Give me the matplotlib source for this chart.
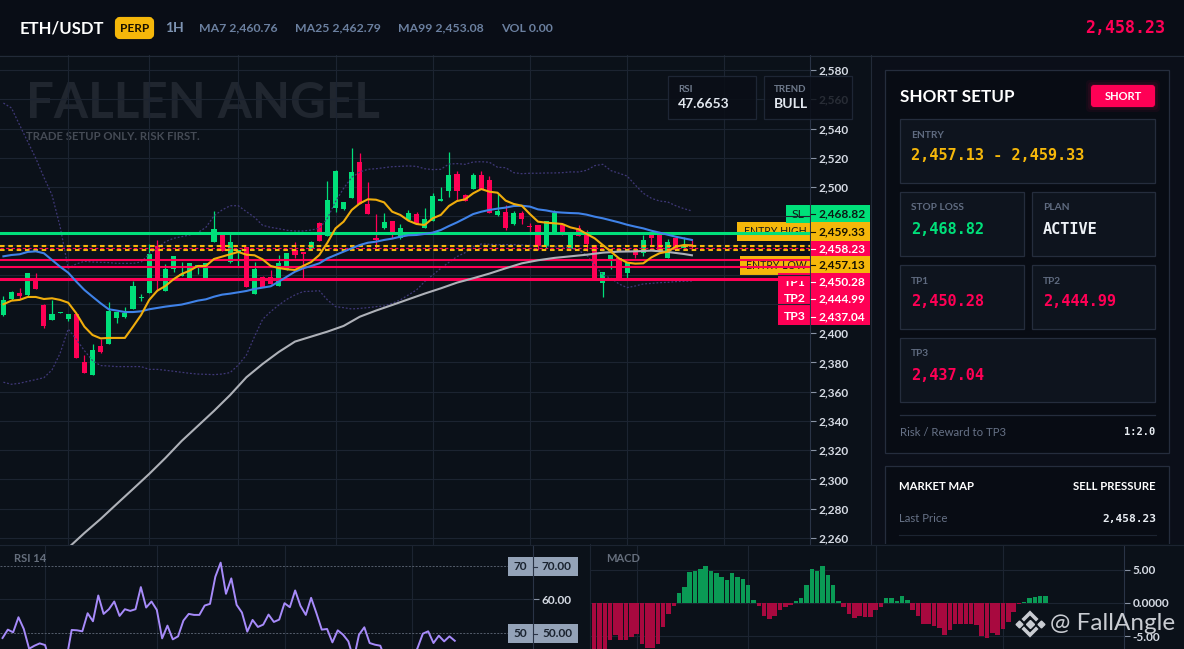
import matplotlib
matplotlib.use("Agg")
import matplotlib.pyplot as plt
from matplotlib.patches import Rectangle, FancyBboxPatch
from matplotlib.ticker import FuncFormatter

# candles
opens = [2412.5, 2423.2, 2427.5, 2426.2, 2436.9, 2419.3, 2409.1, 2413.9, 2409.8, 2413.2, 2380.4, 2371.5, 2391.3, 2392.7, 2410.4, 2411.1, 2416.6, 2424.3, 2427.5, 2459.7, 2428.9, 2443.9, 2439.1, 2437.8, 2446.0, 2437.8, 2462.4, 2468.6, 2448.7, 2454.7, 2458.7, 2426.9, 2438.5, 2438.5, 2432.3, 2443.9, 2456.9, 2455.6, 2457.6, 2475.4, 2466.5, 2485.6, 2485.0, 2492.5, 2517.1, 2488.4, 2465.1, 2472.0, 2476.8, 2465.1, 2477.4, 2481.5, 2472.0, 2476.8, 2490.4, 2497.3, 2508.9, 2494.5, 2498.6, 2508.2, 2504.8, 2480.9, 2482.9, 2474.7, 2482.2, 2473.3, 2474.0, 2459.7, 2469.2, 2474.0, 2457.6, 2472.0, 2467.9, 2460.3, 2434.4, 2449.4, 2451.5, 2441.2, 2456.2, 2454.9, 2467.2, 2467.2, 2451.5, 2464.9, 2458.1, 2460.3]
highs = [2425.5, 2428.7, 2431.0, 2441.2, 2441.0, 2420.2, 2422.8, 2414.3, 2413.2, 2413.6, 2385.1, 2392.7, 2395.8, 2421.1, 2414.5, 2418.0, 2435.7, 2426.8, 2461.0, 2463.8, 2447.1, 2452.8, 2448.7, 2448.0, 2446.7, 2448.0, 2483.6, 2468.6, 2467.9, 2456.9, 2458.7, 2448.7, 2439.2, 2443.3, 2453.5, 2454.9, 2462.4, 2455.6, 2463.1, 2476.1, 2504.1, 2511.6, 2489.8, 2526.7, 2523.2, 2503.4, 2481.5, 2482.2, 2476.8, 2474.7, 2484.3, 2482.9, 2485.6, 2495.9, 2500.0, 2523.9, 2510.9, 2495.2, 2509.6, 2510.9, 2507.5, 2495.2, 2487.7, 2483.6, 2483.6, 2475.4, 2474.0, 2476.8, 2484.3, 2474.0, 2469.2, 2474.0, 2470.6, 2460.3, 2441.9, 2453.5, 2451.5, 2448.0, 2456.2, 2467.2, 2469.2, 2467.9, 2464.5, 2464.9, 2465.6, 2463.8]
lows = [2412.0, 2423.0, 2423.2, 2425.0, 2430.3, 2403.8, 2409.1, 2413.9, 2408.4, 2383.3, 2372.8, 2371.5, 2386.5, 2392.7, 2407.2, 2410.7, 2416.6, 2422.1, 2427.5, 2428.9, 2428.9, 2441.9, 2439.1, 2437.1, 2440.5, 2437.1, 2462.4, 2456.2, 2448.0, 2446.0, 2431.6, 2426.9, 2431.6, 2433.7, 2432.3, 2443.3, 2451.5, 2437.8, 2456.9, 2463.1, 2466.5, 2482.9, 2484.3, 2492.5, 2488.4, 2481.5, 2458.3, 2471.3, 2465.1, 2464.5, 2477.4, 2474.7, 2472.0, 2476.8, 2490.4, 2493.2, 2490.4, 2490.4, 2498.6, 2498.6, 2482.2, 2480.2, 2470.6, 2474.0, 2474.7, 2467.9, 2456.9, 2458.3, 2469.2, 2467.2, 2456.9, 2466.5, 2456.2, 2437.8, 2424.8, 2443.9, 2437.8, 2436.4, 2451.5, 2452.8, 2459.7, 2456.2, 2451.5, 2456.9, 2458.1, 2458.1]
closes = [2422.8, 2428.2, 2425.5, 2441.2, 2430.3, 2405.2, 2413.2, 2414.3, 2413.2, 2383.3, 2372.8, 2388.6, 2387.2, 2415.2, 2414.5, 2413.9, 2432.3, 2424.8, 2454.2, 2436.4, 2443.9, 2452.8, 2440.5, 2448.0, 2446.7, 2448.0, 2471.3, 2456.2, 2462.4, 2456.9, 2431.6, 2443.9, 2431.6, 2433.7, 2448.0, 2454.9, 2453.5, 2454.2, 2462.4, 2463.1, 2491.1, 2510.9, 2489.8, 2510.3, 2488.4, 2481.5, 2463.8, 2476.1, 2468.6, 2472.0, 2482.2, 2474.7, 2478.1, 2493.8, 2491.8, 2508.2, 2497.3, 2490.4, 2508.2, 2498.6, 2482.2, 2483.6, 2472.0, 2482.2, 2478.1, 2472.7, 2459.7, 2476.8, 2482.2, 2468.6, 2469.2, 2466.5, 2461.0, 2437.8, 2441.9, 2453.5, 2437.8, 2448.0, 2453.5, 2463.8, 2465.1, 2456.2, 2462.4, 2456.9, 2460.3, 2459.2]

ma7 = [2419.8, 2422.3, 2422.8, 2424.8, 2424.8, 2423.4, 2423.9, 2422.8, 2420.9, 2413.6, 2404.5, 2398.8, 2396.5, 2396.8, 2396.8, 2396.8, 2404.5, 2412.5, 2422.8, 2429.1, 2432.3, 2436.9, 2440.5, 2442.8, 2446.0, 2446.0, 2450.8, 2452.4, 2454.0, 2455.6, 2453.7, 2453.3, 2450.5, 2446.0, 2444.6, 2443.7, 2443.3, 2446.0, 2448.7, 2453.5, 2461.9, 2471.7, 2476.3, 2484.3, 2488.8, 2491.6, 2491.3, 2489.5, 2483.1, 2480.9, 2477.0, 2474.7, 2474.0, 2478.6, 2480.9, 2487.0, 2490.4, 2491.6, 2495.7, 2498.6, 2496.8, 2496.1, 2490.7, 2488.4, 2487.2, 2481.5, 2476.3, 2475.6, 2475.2, 2474.7, 2472.4, 2471.1, 2467.9, 2464.9, 2460.3, 2455.8, 2451.2, 2448.3, 2447.6, 2447.8, 2451.9, 2454.7, 2455.8, 2459.2, 2460.3, 2460.1]
ma25 = [2452.6, 2453.5, 2454.0, 2455.6, 2456.0, 2454.7, 2450.1, 2445.5, 2441.4, 2435.3, 2429.6, 2425.0, 2420.5, 2416.4, 2415.5, 2414.5, 2414.5, 2415.0, 2416.4, 2417.3, 2418.2, 2418.9, 2419.6, 2420.9, 2422.3, 2423.2, 2425.0, 2426.4, 2427.1, 2428.0, 2428.9, 2430.3, 2431.2, 2432.1, 2435.3, 2438.7, 2442.1, 2444.4, 2446.0, 2447.8, 2451.2, 2453.5, 2455.8, 2458.1, 2460.3, 2461.9, 2462.6, 2463.8, 2464.7, 2466.0, 2467.0, 2467.2, 2467.9, 2468.8, 2470.6, 2473.3, 2475.8, 2478.6, 2481.5, 2483.1, 2484.3, 2485.2, 2485.9, 2487.0, 2487.2, 2486.6, 2484.7, 2484.0, 2482.9, 2482.5, 2482.2, 2482.0, 2481.1, 2479.7, 2478.6, 2477.2, 2475.8, 2474.2, 2472.9, 2471.7, 2470.1, 2468.8, 2467.4, 2466.0, 2464.9, 2463.8]
ma99_idx = [8, 10, 12, 14, 16, 18, 20, 22, 24, 26, 28, 30, 32, 34, 36, 38, 40, 42, 44, 46, 48, 50, 52, 54, 56, 58, 60, 62, 64, 66, 68, 70, 72, 74, 76, 78, 80, 82, 84, 85]
ma99 = [2253.2, 2263.4, 2273.0, 2283.3, 2293.5, 2303.8, 2314.7, 2326.3, 2336.6, 2346.9, 2357.8, 2369.9, 2379.0, 2387.2, 2394.3, 2397.7, 2401.1, 2405.0, 2411.3, 2415.5, 2419.3, 2423.2, 2427.1, 2430.7, 2434.6, 2437.6, 2440.8, 2444.4, 2447.8, 2449.9, 2451.5, 2452.6, 2453.7, 2455.1, 2455.8, 2456.0, 2456.5, 2455.6, 2454.2, 2453.3]
bb_upper = [2557.4, 2554.0, 2542.4, 2531.0, 2519.6, 2506.6, 2494.5, 2472.9, 2444.4, 2447.4, 2449.2, 2448.7, 2448.5, 2448.3, 2447.8, 2447.8, 2447.8, 2448.7, 2454.2, 2458.1, 2462.6, 2464.9, 2466.0, 2467.2, 2468.8, 2472.4, 2480.2, 2484.3, 2487.2, 2487.2, 2483.1, 2479.3, 2473.8, 2472.4, 2471.5, 2470.4, 2469.9, 2469.9, 2470.6, 2471.7, 2478.6, 2490.0, 2499.1, 2506.6, 2510.3, 2512.1, 2512.5, 2513.2, 2513.9, 2514.1, 2514.4, 2514.1, 2512.5, 2511.9, 2512.1, 2515.7, 2516.0, 2515.5, 2517.1, 2517.3, 2516.9, 2513.5, 2513.2, 2509.8, 2509.1, 2509.4, 2509.4, 2509.6, 2509.6, 2509.8, 2510.3, 2510.3, 2511.4, 2514.6, 2515.5, 2511.2, 2509.4, 2507.5, 2501.4, 2495.7, 2492.3, 2490.4, 2489.8, 2487.2, 2485.2, 2483.6]
bb_lower = [2366.5, 2365.1, 2365.8, 2367.1, 2368.3, 2369.6, 2374.9, 2386.3, 2402.9, 2395.8, 2388.1, 2381.3, 2377.9, 2377.6, 2377.2, 2377.2, 2377.2, 2377.2, 2375.3, 2375.3, 2374.7, 2374.0, 2373.3, 2372.6, 2372.1, 2371.9, 2371.7, 2372.1, 2373.1, 2378.3, 2385.1, 2397.7, 2409.5, 2414.8, 2419.3, 2423.2, 2426.2, 2428.5, 2428.7, 2429.1, 2422.8, 2418.2, 2417.5, 2416.6, 2417.0, 2417.5, 2418.2, 2418.6, 2420.5, 2422.8, 2426.2, 2429.6, 2435.3, 2439.8, 2444.4, 2448.5, 2452.4, 2455.1, 2459.2, 2461.0, 2460.8, 2460.6, 2460.6, 2460.6, 2460.3, 2460.1, 2459.7, 2459.4, 2459.2, 2459.0, 2458.1, 2456.5, 2453.5, 2446.7, 2439.8, 2437.6, 2433.7, 2431.2, 2432.3, 2433.7, 2434.1, 2434.6, 2434.8, 2435.3, 2435.5, 2435.7]

rsi_vals = [48.5, 51.0, 50.2, 54.7, 51.2, 45.3, 46.2, 46.9, 46.4, 41.1, 40.1, 40.1, 42.1, 50.9, 50.8, 50.5, 55.9, 53.5, 61.2, 55.7, 57.1, 59.4, 55.1, 57.1, 56.6, 57.1, 63.7, 57.6, 59.4, 56.9, 48.4, 52.2, 48.1, 49.0, 53.7, 55.7, 55.4, 55.4, 58.2, 58.7, 66.8, 71.0, 61.7, 66.3, 58.4, 56.1, 50.4, 53.9, 51.8, 52.5, 55.5, 53.3, 54.0, 58.9, 57.7, 62.7, 58.1, 55.4, 60.5, 55.9, 51.0, 51.2, 47.2, 50.8, 49.5, 47.5, 42.1, 49.5, 51.7, 47.0, 46.5, 46.2, 42.1, 41.1, 39.1, 39.1, 40.1, 42.1, 45.5, 49.8, 50.5, 47.0, 49.2, 47.5, 49.0, 47.67]
macd_vals = [-6.9, -6.9, -7.0, -5.6, -4.8, -5.6, -5.5, -5.1, -4.7, -6.1, -6.7, -6.7, -6.1, -3.6, -1.7, -0.5, 1.5, 2.4, 4.6, 4.75, 5.05, 5.5, 4.75, 4.5, 3.9, 3.4, 4.5, 3.9, 3.6, 2.7, 0.5, -0.5, -1.9, -2.45, -2.0, -1.1, -0.6, -0.35, 0.35, 0.8, 2.7, 5.05, 4.75, 5.5, 4.2, 2.7, 0.35, -0.6, -1.7, -2.3, -2.0, -2.1, -2.1, -1.1, -0.6, 0.8, 0.8, 0.35, 1.0, 0.5, -1.0, -1.9, -3.2, -3.2, -3.5, -3.8, -4.8, -4.0, -3.2, -3.2, -3.2, -3.2, -3.3, -4.9, -5.2, -4.5, -4.8, -3.9, -2.8, -1.4, -0.1, 0.2, 0.7, 0.9, 1.1, 1.1]

# levels and ticks
stop_loss = 2468.82
entry_high = 2459.33
entry_low = 2457.13
last_price = 2458.23
tp1 = 2450.28
tp2 = 2444.99
tp3 = 2437.04
price_ticks = [2260, 2280, 2300, 2320, 2340, 2360, 2380, 2400, 2420, 2440, 2460, 2480, 2500, 2520, 2540, 2560, 2580]
hidden_ticks = [2420, 2440, 2460, 2480]  # sit behind the level tags
time_ticks = [8, 18, 29, 41, 53, 65, 77, 89]
panel_time_ticks = [8, 29, 53, 77]

BG = "#0b1119"
HEAD = "#090d16"
SIDE = "#0b0f19"
CARD = "#080c14"
INNER = "#0e141e"
EDGE = "#252d3d"
GRID = "#1c2431"
GREEN = "#00e07a"
RED = "#ff0055"
GOLD = "#f5b70a"
W, H = 1184, 649

plt.rcParams["font.family"] = ["Lato", "DejaVu Sans"]
MONO = "DejaVu Sans Mono"

fig = plt.figure(figsize=(W / 100, H / 100), dpi=100, facecolor=BG)


def axes_px(x0, y0, x1, y1, z):
    ax = fig.add_axes([x0 / W, 1 - y1 / H, (x1 - x0) / W, (y1 - y0) / H], zorder=z)
    ax.set_facecolor("none")
    return ax


def overlay(z):
    ax = axes_px(0, 0, W, H, z)
    ax.set_xlim(0, W)
    ax.set_ylim(H, 0)
    ax.axis("off")
    return ax


def box(ax, x0, y0, x1, y1, face, edge="none", lw=1.0, alpha=None, z=1):
    ax.add_patch(Rectangle((x0, y0), x1 - x0, y1 - y0, facecolor=face, edgecolor=edge,
                           linewidth=lw, alpha=alpha, zorder=z))


def style_panel(ax):
    ax.grid(True, color=GRID, linewidth=0.8)
    ax.set_axisbelow(True)
    for name in ["top", "left", "bottom"]:
        ax.spines[name].set_visible(False)
    ax.spines["right"].set_color("#2a3446")
    ax.yaxis.tick_right()
    ax.tick_params(axis="x", length=0, labelbottom=False)
    ax.tick_params(axis="y", length=4, width=0.8, color="#8a94a6", labelcolor="#d5dae3",
                   labelsize=8.6, pad=2)
    for t in ax.get_yticklabels():
        t.set_fontweight("bold")


# background layer, sits under the price axes
bg = overlay(0)
bg.text(26, 103, "FALLEN ANGEL", fontsize=35.5, fontweight="bold", color="#20262f", va="center")
bg.text(26, 137, "TRADE SETUP ONLY. RISK FIRST.", fontsize=8.2, fontweight="bold", color="#454b55", va="center")
box(bg, 737, 222, 811, 241, GOLD)
bg.text(775, 231.5, "ENTRY HIGH", fontsize=7.6, color="#1a1a1a", ha="center", va="center")
box(bg, 740, 256, 811, 275, GOLD)
bg.text(776.5, 265.5, "ENTRY LOW", fontsize=7.6, color="#1a1a1a", ha="center", va="center")
box(bg, 778, 273, 811, 325, RED)
bg.text(795, 282, "TP1", fontsize=8.8, fontweight="bold", color="white", ha="center", va="center")
bg.text(795, 299, "TP2", fontsize=8.8, fontweight="bold", color="white", ha="center", va="center")
bg.text(795, 316, "TP3", fontsize=8.8, fontweight="bold", color="white", ha="center", va="center")
box(bg, 786, 205, 811, 223, GREEN)
bg.text(798.5, 214, "SL", fontsize=8.8, color="#10201a", ha="center", va="center")

# side panel sits under the bottom strip and the indicator panels
side = overlay(0.5)
box(side, 871, 56, W, 545, SIDE, z=0.5)
box(side, 885, 70, 1169, 453, CARD, edge=EDGE, lw=0.9)
box(side, 885, 466, 1169, 560, CARD, edge=EDGE, lw=0.9)
side.text(900, 97, "SHORT SETUP", fontsize=12.3, fontweight="bold", color="white", va="center", zorder=3)
for grow, a in [(7, 0.05), (5, 0.07), (3, 0.1), (1.5, 0.15)]:
    side.add_patch(FancyBboxPatch((1093, 87), 60, 18, boxstyle=f"round,pad={grow},rounding_size=4", facecolor=RED,
                                  edgecolor="none", alpha=a, zorder=2))
side.add_patch(FancyBboxPatch((1093, 87), 60, 18, boxstyle="round,pad=2,rounding_size=3", facecolor=RED,
                              edgecolor="none", zorder=2))
side.text(1123, 96.5, "SHORT", fontsize=8, fontweight="bold", color="white", ha="center", va="center", zorder=3)

cards = [(900, 119, 1155, 183, "ENTRY", "2,457.13 - 2,459.33", GOLD),
         (900, 192, 1024, 256, "STOP LOSS", "2,468.82", GREEN),
         (1032, 192, 1155, 256, "PLAN", "ACTIVE", "#eef2f7"),
         (900, 265, 1024, 329, "TP1", "2,450.28", RED),
         (1032, 265, 1155, 329, "TP2", "2,444.99", RED),
         (900, 338, 1155, 402, "TP3", "2,437.04", RED)]
for x0, y0, x1, y1, name, val, col in cards:
    box(side, x0, y0, x1, y1, INNER, edge=EDGE, lw=0.9, z=2)
    side.text(x0 + 11, y0 + 16, name, fontsize=7.3, fontweight="bold", color="#5f6b80", va="center", zorder=3)
    side.text(x0 + 11, y0 + 37, val, fontsize=11, fontweight="bold", family=MONO, color=col, va="center", zorder=3)

side.plot([900, 1155], [414.5, 414.5], color=EDGE, linewidth=0.9, zorder=3)
side.text(900, 432, "Risk / Reward to TP3", fontsize=8.2, color="#667186", va="center", zorder=3)
side.text(1155, 432, "1:2.0", fontsize=7.5, fontweight="bold", family=MONO, color="#e8edf3", ha="right", va="center", zorder=3)
side.text(899, 487, "MARKET MAP", fontsize=8.2, fontweight="bold", color="white", va="center", zorder=3)
side.text(1156, 487, "SELL PRESSURE", fontsize=8.2, fontweight="bold", color="white", ha="right", va="center", zorder=3)
side.text(899, 519, "Last Price", fontsize=8.2, color="#667186", va="center", zorder=3)
side.text(1156, 519, "2,458.23", fontsize=8, fontweight="bold", family=MONO, color="#e8edf3", ha="right", va="center", zorder=3)
side.plot([899, 1156], [534.5, 534.5], color="#1c2431", linewidth=0.8, zorder=3)

# bottom strip covers the lower side card
strip = overlay(0.7)
box(strip, 0, 544, W, H, BG)

# main price chart
ax = axes_px(0, 55, 810, 545, 1)
xs = list(range(len(opens)))
for i in xs:
    col = GREEN if closes[i] >= opens[i] else RED
    ax.vlines(i, lows[i], highs[i], color=col, linewidth=0.9, zorder=2)
    ax.bar(i, abs(closes[i] - opens[i]), bottom=min(opens[i], closes[i]), width=0.62, color=col, zorder=2)

ax.plot(xs, bb_upper, color="#3f3878", linewidth=0.9, linestyle=(0, (1.5, 1.5)), zorder=2)
ax.plot(xs, bb_lower, color="#3f3878", linewidth=0.9, linestyle=(0, (1.5, 1.5)), zorder=2)

ax.axhline(stop_loss, color=GREEN, linewidth=2.2, zorder=3)
ax.axhline(tp1, color=RED, linewidth=1.5, zorder=3)
ax.axhline(tp2, color=RED, linewidth=1.5, zorder=3)
ax.axhline(tp3, color=RED, linewidth=2.2, zorder=3)
ax.axhline(entry_high, color=GOLD, linewidth=1.5, linestyle=(0, (2.2, 1.8)), zorder=3)
ax.axhline(entry_low, color=GOLD, linewidth=1.5, linestyle=(0, (2.2, 1.8)), zorder=3)
ax.axhline(last_price, color=RED, linewidth=0.8, linestyle=(0, (3, 2)), zorder=3)

ax.plot(ma99_idx, ma99, color="#aeb1b8", linewidth=1.5, zorder=4)
ax.plot(xs, ma25, color="#3f82e8", linewidth=1.5, zorder=4)
ax.plot(xs, ma7, color="#f0ad0c", linewidth=1.5, zorder=5)

ax.set_xlim(-0.42, 99.58)
ax.set_ylim(2255.2, 2590.26)
ax.set_xticks(time_ticks)
ax.set_yticks(price_ticks)
ax.yaxis.set_major_formatter(FuncFormatter(lambda v, p: "" if round(v) in hidden_ticks else f"{v:,.0f}"))
style_panel(ax)

# rsi panel
rsi_ax = axes_px(0, 545, 533, 649, 1)
rsi_ax.plot(range(len(rsi_vals)), rsi_vals, color="#a78bfa", linewidth=1.4, zorder=3)
rsi_ax.axhline(70, color="#555e6c", linewidth=0.7, linestyle=(0, (2, 1.5)))
rsi_ax.axhline(50, color="#555e6c", linewidth=0.7, linestyle=(0, (2, 1.5)))
rsi_ax.set_xlim(-0.47, 99.7)
rsi_ax.set_ylim(45.22, 76.27)
rsi_ax.set_xticks(panel_time_ticks)
rsi_ax.set_yticks([60])
rsi_ax.yaxis.set_major_formatter(FuncFormatter(lambda v, p: f"{v:.2f}"))
style_panel(rsi_ax)

# macd panel
macd_ax = axes_px(590, 545, 1124, 649, 1)
macd_cols = ["#0a9a55" if v >= 0 else "#a8093f" for v in macd_vals]
macd_ax.bar(range(len(macd_vals)), macd_vals, width=0.85, color=macd_cols, zorder=3)
macd_ax.set_xlim(-0.79, 99.8)
macd_ax.set_ylim(-6.87, 8.66)
macd_ax.set_xticks(panel_time_ticks)
macd_ax.set_yticks([-5, 0, 5])
macd_ax.yaxis.set_major_formatter(FuncFormatter(lambda v, p: "0.0000" if v == 0 else f"{v:.2f}"))
style_panel(macd_ax)

# overlay: header, labels
ov = overlay(2)
box(ov, 0, 0, W, 55, HEAD)
ov.plot([0, W], [55.5, 55.5], color="#222a38", linewidth=0.8, zorder=2)
ov.text(20, 28, "ETH/USDT", fontsize=12, fontweight="bold", color="white", va="center", zorder=3)
ov.add_patch(FancyBboxPatch((117, 19), 35, 18, boxstyle="round,pad=0,rounding_size=3", facecolor=GOLD, edgecolor=GOLD,
                            linewidth=3, zorder=2))
ov.text(134.5, 28.5, "PERP", fontsize=8.5, fontweight="bold", color="#1a1200", ha="center", va="center", zorder=3)
ov.text(165, 28, "1H", fontsize=10, fontweight="bold", color="#7d93b2", va="center", zorder=3)
for hx, label in [(199, "MA7 2,460.76"), (295, "MA25 2,462.79"), (398, "MA99 2,453.08"), (501, "VOL 0.00")]:
    ov.text(hx, 28, label, fontsize=8.8, fontweight="bold", color="#6b80a0", va="center", zorder=3)
ov.text(1165, 28, "2,458.23", fontsize=12, fontweight="bold", family=MONO, color=RED, ha="right", va="center", zorder=3)

# rsi / trend badges
for bx, name, val in [(668, "RSI", "47.6653"), (764, "TREND", "BULL")]:
    box(ov, bx, 76, bx + 88, 119, "#0a0e17", edge="#222b3b", lw=0.9, alpha=0.85)
    ov.text(bx + 10, 89, name, fontsize=7, fontweight="bold", color="#6f7a8c", va="center", zorder=3)
    ov.text(bx + 10, 104, val, fontsize=10, fontweight="bold", color="#e3e8f0", va="center", zorder=3)

# value column
ov.plot([870.5, 870.5], [55, 545], color="#222a38", linewidth=0.8, zorder=1)
for y0, y1, col, tcol, txt in [(205, 223, GREEN, "#0c1a14", "2,468.82"), (222, 241, GOLD, "#161203", "2,459.33"),
                               (241, 256, RED, "white", "2,458.23"), (256, 273, GOLD, "#161203", "2,457.13"),
                               (273, 290.5, RED, "white", "2,450.28"), (290.5, 308, RED, "white", "2,444.99"),
                               (308, 325, RED, "white", "2,437.04")]:
    box(ov, 811, y0, 870, y1, col, z=2)
    ov.plot([811, 815], [(y0 + y1) / 2] * 2, color=tcol, linewidth=0.8, zorder=3)
    ov.text(818, (y0 + y1) / 2, txt, fontsize=8.6, fontweight="bold", color=tcol, va="center", zorder=3)

ov.plot([0, W], [544.5, 544.5], color="#1c2431", linewidth=0.8, zorder=2.6)
ov.plot([590, 590], [544, H], color="#1c2431", linewidth=0.8, zorder=2.6)
ov.text(14, 559, "RSI 14", fontsize=8, fontweight="bold", color="#666f7d", va="center", zorder=3)
ov.text(606, 559, "MACD", fontsize=8, fontweight="bold", color="#666f7d", va="center", zorder=3)

# rsi level tags
for y0, y1, short, full in [(557, 576, "70", "70.00"), (624, 643, "50", "50.00")]:
    box(ov, 508, y0, 578, y1, "#94a3b8", z=2.7)
    ov.plot([533, 533], [y0, y1], color="#2a3446", linewidth=0.8, zorder=3)
    ov.plot([533, 537], [(y0 + y1) / 2] * 2, color="#2a3446", linewidth=0.8, zorder=3)
    ov.text(520.5, (y0 + y1) / 2, short, fontsize=8.6, fontweight="bold", color="#1b2430", ha="center", va="center", zorder=3)
    ov.text(542, (y0 + y1) / 2, full, fontsize=8.6, fontweight="bold", color="#1b2430", va="center", zorder=3)

# watermark
wm = "#c9ccd2"
ov.text(1050, 624, "@ FallAngle", fontsize=17.5, color=wm, va="center", zorder=4)
ov.plot([1024, 1030, 1036], [619, 613, 619], color=wm, linewidth=2.6, solid_joinstyle="miter", zorder=4)
ov.plot([1024, 1030, 1036], [629, 635, 629], color=wm, linewidth=2.6, solid_joinstyle="miter", zorder=4)
ov.plot([1030], [624], marker="D", markersize=4.5, color=wm, zorder=4)
ov.plot([1019, 1041], [624, 624], linestyle="none", marker="D", markersize=3.5, color=wm, zorder=4)

fig.savefig("out.png", dpi=100, facecolor=BG)
plt.close(fig)
